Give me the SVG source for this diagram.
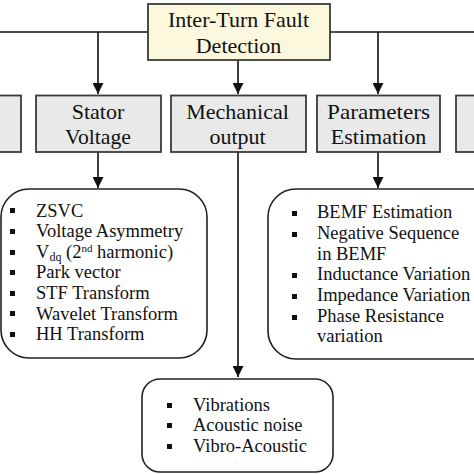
<svg xmlns="http://www.w3.org/2000/svg" width="474" height="474" viewBox="0 0 474 474">
<defs>
<marker id="ah" viewBox="0 0 10 10" refX="10" refY="5" markerWidth="11" markerHeight="11" markerUnits="userSpaceOnUse" orient="auto">
<path d="M0,0 L10,5 L0,10 z" fill="#111"/>
</marker>
<style>
text{font-family:"Liberation Serif","Times New Roman",serif;fill:#111}
.h{font-size:22px;text-anchor:middle}
.l{font-size:18.5px}
.box{fill:#e9e9e9;stroke:#3a3a3a;stroke-width:1.8}
.rb{fill:#fff;stroke:#222;stroke-width:1.6}
.c{stroke:#111;stroke-width:1.6;fill:none}
.b{fill:#111}
</style>
</defs>
<rect width="474" height="474" fill="#fff"/>
<g id="connectors">
<path class="c" d="M0,32 H148 M330,32 H474"/>
<path class="c" d="M98,32 V94" marker-end="url(#ah)"/>
<path class="c" d="M238,60 V94" marker-end="url(#ah)"/>
<path class="c" d="M378,32 V94" marker-end="url(#ah)"/>
<path class="c" d="M98,152 V188" marker-end="url(#ah)"/>
<path class="c" d="M378,152 V188" marker-end="url(#ah)"/>
<path class="c" d="M238,152 V377" marker-end="url(#ah)"/>
</g>
<g id="top">
<rect x="148" y="4" width="182" height="56" fill="#fcf8de" stroke="#3a3a3a" stroke-width="1.8"/>
<text class="h" x="238.5" y="27">Inter-Turn Fault</text>
<text class="h" x="238.5" y="53">Detection</text>
</g>
<g id="leftPartial"><rect class="box" x="-5" y="95.5" width="26" height="56.5"/></g>
<g id="stator">
<rect class="box" x="36" y="95.5" width="125" height="56.5"/>
<text class="h" x="98" y="119">Stator</text>
<text class="h" x="98" y="143.5" textLength="66" lengthAdjust="spacingAndGlyphs">Voltage</text>
</g>
<g id="mechanical">
<rect class="box" x="171" y="95.5" width="135" height="56.5"/>
<text class="h" x="237.5" y="119">Mechanical</text>
<text class="h" x="237.5" y="143.5">output</text>
</g>
<g id="parameters">
<rect class="box" x="317" y="95.5" width="123" height="56.5"/>
<text class="h" x="378.5" y="119" textLength="103" lengthAdjust="spacingAndGlyphs">Parameters</text>
<text class="h" x="378.5" y="143.5">Estimation</text>
</g>
<g id="rightPartial"><rect class="box" x="456" y="95.5" width="30" height="56.5"/></g>
<g id="statorList">
<rect class="rb" x="1" y="189" width="206" height="169" rx="28"/>
<g class="b">
<rect x="10" y="208" width="5" height="5"/>
<rect x="10" y="229" width="5" height="5"/>
<rect x="10" y="250" width="5" height="5"/>
<rect x="10" y="270" width="5" height="5"/>
<rect x="10" y="291" width="5" height="5"/>
<rect x="10" y="311" width="5" height="5"/>
<rect x="10" y="332" width="5" height="5"/>
</g>
<text class="l" x="36" y="216.5">ZSVC</text>
<text class="l" x="36" y="237">Voltage Asymmetry</text>
<text class="l" x="36" y="257.5">V<tspan font-size="12" dy="3">dq</tspan><tspan dy="-3"> (2</tspan><tspan font-size="11" dy="-6">nd</tspan><tspan dy="6"> harmonic)</tspan></text>
<text class="l" x="36" y="278">Park vector</text>
<text class="l" x="36" y="299">STF Transform</text>
<text class="l" x="36" y="319.5">Wavelet Transform</text>
<text class="l" x="36" y="340">HH Transform</text>
</g>
<g id="paramList">
<rect class="rb" x="268" y="189" width="240" height="170" rx="28"/>
<g class="b">
<rect x="292" y="211" width="5" height="5"/>
<rect x="292" y="232" width="5" height="5"/>
<rect x="292" y="273" width="5" height="5"/>
<rect x="292" y="294" width="5" height="5"/>
<rect x="292" y="315" width="5" height="5"/>
</g>
<text class="l" x="317" y="218">BEMF Estimation</text>
<text class="l" x="317" y="239">Negative Sequence</text>
<text class="l" x="317" y="260">in BEMF</text>
<text class="l" x="317" y="280">Inductance Variation</text>
<text class="l" x="317" y="301">Impedance Variation</text>
<text class="l" x="317" y="322">Phase Resistance</text>
<text class="l" x="317" y="342">variation</text>
</g>
<g id="mechList">
<rect class="rb" x="142" y="379" width="191" height="93" rx="18"/>
<g class="b">
<rect x="167" y="403" width="5" height="5"/>
<rect x="167" y="423" width="5" height="5"/>
<rect x="167" y="444" width="5" height="5"/>
</g>
<text class="l" x="193" y="411">Vibrations</text>
<text class="l" x="193" y="431">Acoustic noise</text>
<text class="l" x="193" y="452">Vibro-Acoustic</text>
</g>
</svg>
